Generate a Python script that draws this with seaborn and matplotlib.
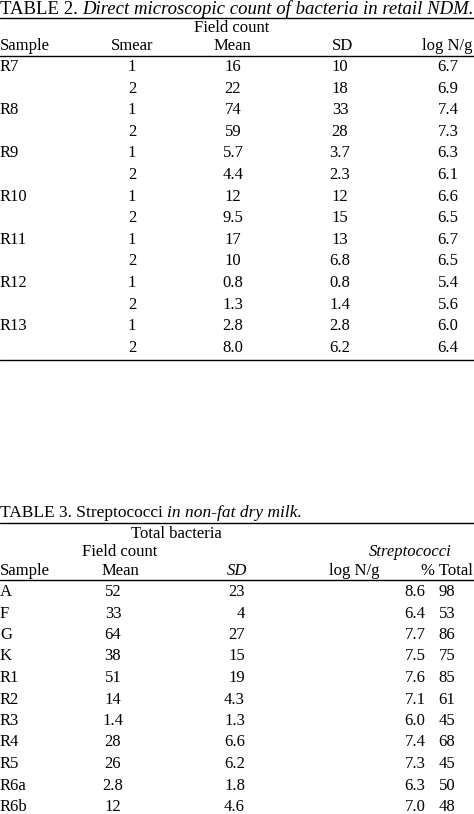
import matplotlib
matplotlib.use("Agg")
import matplotlib.pyplot as plt
import seaborn as sns

# Table 2 data
t2_samples = ["R7", "R8", "R9", "R10", "R11", "R12", "R13"]
t2_smear = ["1", "2"]
t2_mean = ["16", "22", "74", "59", "5.7", "4.4", "12", "9.5", "17", "10", "0.8", "1.3", "2.8", "8.0"]
t2_sd = ["10", "18", "33", "28", "3.7", "2.3", "12", "15", "13", "6.8", "0.8", "1.4", "2.8", "6.2"]
t2_log = ["6.7", "6.9", "7.4", "7.3", "6.3", "6.1", "6.6", "6.5", "6.7", "6.5", "5.4", "5.6", "6.0", "6.4"]

# Table 3 data
t3_samples = ["A", "F", "G", "K", "R1", "R2", "R3", "R4", "R5", "R6a", "R6b"]
t3_mean = ["52", "33", "64", "38", "51", "14", "1.4", "28", "26", "2.8", "12"]
t3_sd = ["23", "4", "27", "15", "19", "4.3", "1.3", "6.6", "6.2", "1.8", "4.6"]
t3_log = ["8.6", "6.4", "7.7", "7.5", "7.6", "7.1", "6.0", "7.4", "7.3", "6.3", "7.0"]
t3_pct = ["98", "53", "86", "75", "85", "61", "45", "68", "45", "50", "48"]

sns.set_theme(style="white")
plt.rcParams["font.family"] = ["Liberation Serif", "DejaVu Serif"]

fig = plt.figure(figsize=(4.74, 8.14), dpi=100)
ax = fig.add_axes([0, 0, 1, 1])
ax.set_xlim(0, 474)
ax.set_ylim(814, 0)
ax.axis("off")

fs = 12
kw = dict(fontsize=fs, va="center", color="black")


def rule(y):
    ax.plot([0, 474], [y, y], color="black", lw=1.0)


def title(y, plain, italic, size):
    t = ax.text(0, y, plain, ha="left", va="center", fontsize=size, color="black")
    fig.canvas.draw()
    bb = t.get_window_extent()
    ax.text(bb.x1, y, italic, ha="left", va="center", fontsize=size,
            style="italic", color="black", transform=None if False else ax.transData) \
        .set_x(bb.x1 * 474 / fig.bbox.width)


# ---- Table 2
title(9, "TABLE 2. ", "Direct microscopic count of bacteria in retail NDM.", 13.5)
rule(18)
ax.text(232, 28, "Field count", ha="center", **kw)
ax.text(0, 46, "Sample", ha="left", **kw)
ax.text(132, 46, "Smear", ha="center", **kw)
ax.text(232, 46, "Mean", ha="center", **kw)
ax.text(343, 46, "SD", ha="center", **kw)
ax.text(473, 46, "log N/g", ha="right", **kw)
rule(56)
y0, dy = 67, 21.6
for i in range(len(t2_mean)):
    y = y0 + i * dy
    if i % 2 == 0:
        ax.text(0, y, t2_samples[i // 2], ha="left", **kw)
    ax.text(132, y, t2_smear[i % 2], ha="center", **kw)
    ax.text(233, y, t2_mean[i], ha="center", **kw)
    ax.text(340, y, t2_sd[i], ha="center", **kw)
    ax.text(448, y, t2_log[i], ha="center", **kw)
rule(360)

# ---- Table 3
title(513, "TABLE 3. Streptococci ", "in non-fat dry milk.", 12.5)
rule(523)
ax.text(176, 534, "Total bacteria", ha="center", **kw)
ax.text(120, 552, "Field count", ha="center", **kw)
ax.text(452, 552, "Streptococci", ha="right", style="italic", **kw)
ax.text(0, 571, "Sample", ha="left", **kw)
ax.text(120, 571, "Mean", ha="center", **kw)
ax.text(247, 571, "SD", ha="right", style="italic", **kw)
ax.text(354, 571, "log N/g", ha="center", **kw)
ax.text(473, 571, "% Total", ha="right", **kw)
rule(580)
y0 = 592
for i in range(len(t3_samples)):
    y = y0 + i * 21.5
    ax.text(0, y, t3_samples[i], ha="left", **kw)
    ax.text(113, y, t3_mean[i], ha="center", **kw)
    ax.text(245, y, t3_sd[i], ha="right", **kw)
    ax.text(415, y, t3_log[i], ha="center", **kw)
    ax.text(447, y, t3_pct[i], ha="center", **kw)

fig.savefig("out.png", dpi=100)
